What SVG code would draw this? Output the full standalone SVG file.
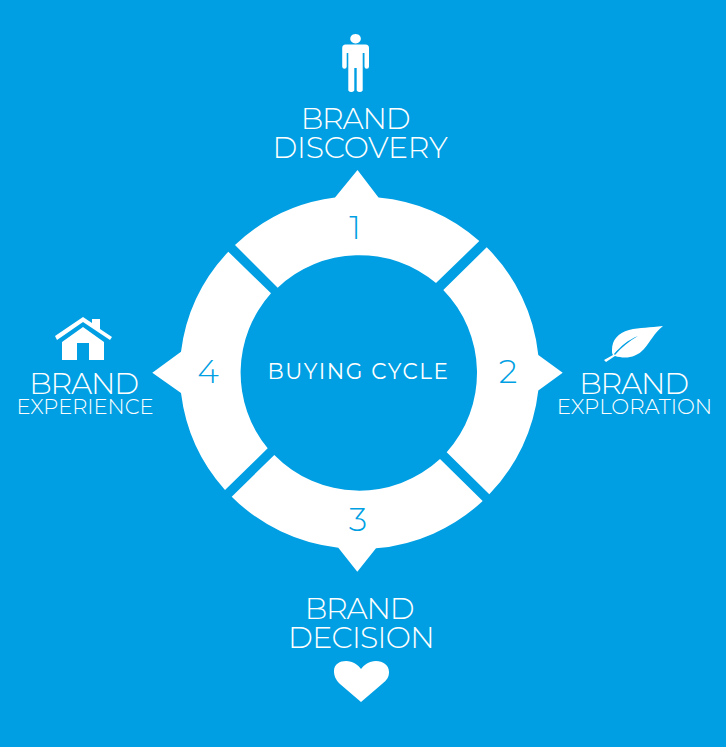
<svg xmlns="http://www.w3.org/2000/svg" width="726" height="747" viewBox="0 0 726 747">
<style>
.seg,.icon{fill:#fff}
text{font-family:"Montserrat","Lato","Liberation Sans",sans-serif;font-weight:300;fill:#fff;text-anchor:middle}
.big{font-size:30px}
.tight{letter-spacing:-1.2px}
.small{font-size:21px}
.num{font-size:33px;fill:#009fe3}
</style>
<rect width="726" height="747" fill="#009fe3"/>
<g id="connectors">
<path class="seg" d="M235 245A178 178 0 0 1 335 197.500L357.500 170L378.500 197.500A178 178 0 0 1 479.300 241L436 283A119 119 0 0 0 277.700 287.700Z"/>
<path class="seg" d="M486.700 247.300A178 178 0 0 1 538.300 355L562.700 372.700L538.300 390.500A178 178 0 0 1 489.300 494.300L446.700 452.300A119 119 0 0 0 443.300 290Z"/>
<path class="seg" d="M482.700 501A178 178 0 0 1 376 548.300L357.300 571.700L338.300 547.700A178 178 0 0 1 231.700 496.700L274.300 455A119 119 0 0 0 440 459Z"/>
<path class="seg" d="M225 490A178 178 0 0 1 181 393L152.300 372.700L181 351.700A178 178 0 0 1 228.300 251.700L271 293.300A119 119 0 0 0 267.700 448.300Z"/>
</g>
<g id="center"><text x="358.500" y="379" style="font-size:21.500px;font-weight:400;letter-spacing:1.600px">BUYING CYCLE</text></g>
<g id="node-1">
<path class="icon" d="M355.500 43.500a5.300 4.800 0 1 1 .1 0ZM345.500 44.500h20a3.500 3.500 0 0 1 3.500 3.500v18.500a2.200 2.200 0 0 1-4.500 0V53h-1.800v37.500a3.600 3.600 0 0 1-6 0V68h-2.400v22.500a3.600 3.600 0 0 1-6 0V53h-1.600v13.500a2.200 2.200 0 0 1-4.500 0V48a3.500 3.500 0 0 1 3.500-3.500Z"/>
<text class="big tight" x="355" y="129">BRAND</text>
<text class="big" x="360" y="158" style="letter-spacing:-.2px">DISCOVERY</text>
<text class="num" x="355" y="239">1</text>
</g>
<g id="node-2">
<path class="icon" d="M663 326C650 328 640 327 629 330C618 333 612 340 612 350C612 352 612 354 613 355L604 360L606 362L615 356C625 359 636 358 644 349C651 341 654 333 663 326Z"/>
<path d="M614 354C621 346 628 340 638 336C629 341 622 347 615 355Z" fill="#009fe3"/>
<text class="big tight" x="633.500" y="394">BRAND</text>
<text class="small" x="634.500" y="414" style="font-size:21.300px">EXPLORATION</text>
<text class="num" x="508" y="383">2</text>
</g>
<g id="node-3">
<path class="icon" d="M361 702L340 684C335 679 334 675 334 671C334 664 340 661 346 661C353 661 358 665 361 669C364 665 369 661 376 661C383 661 389 665 389 672C389 677 387 680 382 684Z"/>
<text class="big tight" x="359" y="619">BRAND</text>
<text class="big" x="361" y="648" style="letter-spacing:-.7px">DECISION</text>
<text class="num" x="358" y="531">3</text>
</g>
<g id="node-4">
<path class="icon" d="M55 336L83 317L92 323V319H100V329L112 337L110 340L83 322L57 340ZM62 342L83 327L104 342V360H89V343H77V360H62Z"/>
<text class="big tight" x="83.500" y="394">BRAND</text>
<text class="small" x="85" y="414">EXPERIENCE</text>
<text class="num" x="208" y="383">4</text>
</g>
</svg>
